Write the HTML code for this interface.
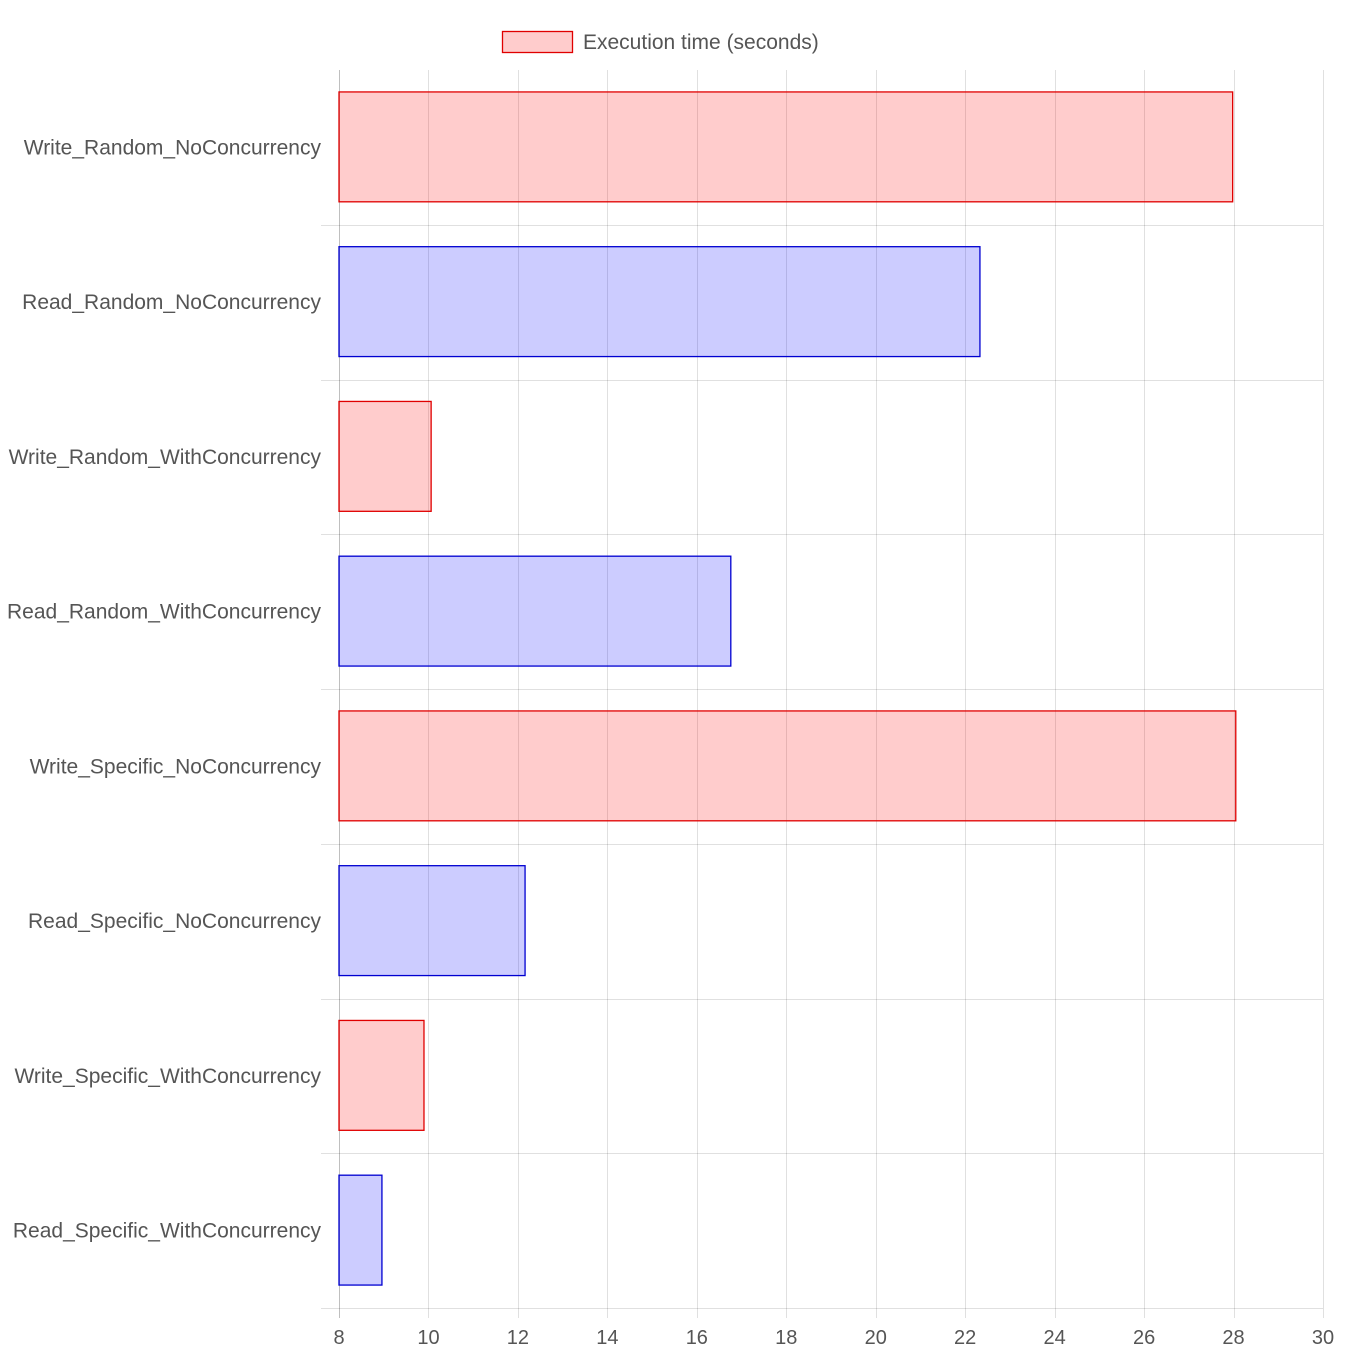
<!DOCTYPE html>
<html><head><meta charset="utf-8">
<style>
html,body{margin:0;padding:0;background:#fff;}
svg{display:block;font-family:"Liberation Sans",Helvetica,Arial,sans-serif;}
</style></head>
<body>
<svg id="chart" width="1358" height="1363"></svg>
<script>
const categories=["Write_Random_NoConcurrency","Read_Random_NoConcurrency","Write_Random_WithConcurrency","Read_Random_WithConcurrency","Write_Specific_NoConcurrency","Read_Specific_NoConcurrency","Write_Specific_WithConcurrency","Read_Specific_WithConcurrency"];
const values=[27.98,22.33,10.06,16.76,28.05,12.16,9.9,8.96];
const xTicks=[8,10,12,14,16,18,20,22,24,26,28,30];
const legendLabel="Execution time (seconds)";

const NS="http://www.w3.org/2000/svg";
const svg=document.getElementById('chart');
const L=339,R=1323,T=70,B=1308,xMin=8,xMax=30;
const xs=v=>L+(v-xMin)/(xMax-xMin)*(R-L);
const band=(B-T)/categories.length;
const ys=i=>T+i*band;
function mk(tag,attrs,parent){const e=document.createElementNS(NS,tag);for(const k in attrs)e.setAttribute(k,attrs[k]);(parent||svg).appendChild(e);return e;}
const grid='rgba(0,0,0,0.12)';

xTicks.forEach((t,i)=>{
  const x=Math.round(xs(t))+0.5;
  const g=mk('line',{x1:x,x2:x,y1:T,y2:B+10,stroke:i===0?'rgba(0,0,0,0.25)':grid,'stroke-width':1});
  
  
  const tx=mk('text',{x:xs(t),y:B+36,'text-anchor':'middle','font-size':20,fill:'#555'});
  tx.textContent=t;
  
  
});
for(let i=1;i<=categories.length;i++){
  const y=Math.round(ys(i))+0.5;
  const g=mk('line',{x1:L-18,x2:R,y1:y,y2:y,stroke:grid,'stroke-width':1});
  
  
}
categories.forEach((c,i)=>{
  const red=i%2===0;
  const h=band*0.71, y0=ys(i)+(band-h)/2-0.5;
  const b=mk('rect',{x:L,y:y0,width:xs(values[i])-L,height:h,fill:'rgba('+(red?'255,0,0':'0,0,255')+',0.2)',stroke:red?'#e00000':'#0000d0','stroke-width':1.3});
  
  
  const t=mk('text',{x:L-18,y:ys(i)+band/2+7,'text-anchor':'end','font-size':21,fill:'#555'});
  t.textContent=c;
  
  
});
const lr=mk('rect',{x:502.5,y:31.5,width:70,height:21,fill:'rgba(255,0,0,0.2)',stroke:'#e00000','stroke-width':1.3});


const lt=mk('text',{x:583,y:49,'font-size':21,fill:'#555'});
lt.textContent=legendLabel;


</script>
</body></html>
